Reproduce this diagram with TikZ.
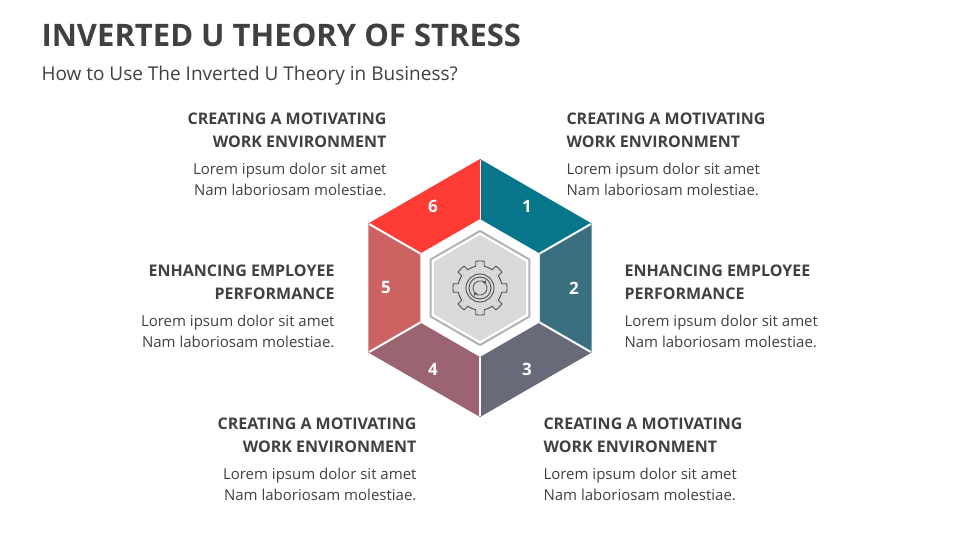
\documentclass[tikz,border=0pt]{standalone}
\usepackage{fontspec}
\setmainfont{Open Sans}
\usetikzlibrary{calc}
\begin{document}
\begin{tikzpicture}[x=1pt,y=-1pt,
  num/.style={text=white,font=\bfseries\fontsize{17}{17}\selectfont},
  head/.style={text=black!75,font=\bfseries\fontsize{16}{23}\selectfont},
  body/.style={text=black!75,font=\fontsize{15}{21}\selectfont}]
\useasboundingbox (0,0) rectangle (960,540);
\definecolor{c1}{RGB}{8,118,138}\definecolor{c2}{RGB}{58,111,128}
\definecolor{c3}{RGB}{103,106,120}\definecolor{c4}{RGB}{156,100,112}
\definecolor{c5}{RGB}{205,98,99}\definecolor{c6}{RGB}{255,59,53}
\node[anchor=base west,text=black!75,font=\bfseries\fontsize{31}{31}\selectfont] (title) at (38,47) {INVERTED U THEORY OF STRESS};
\node[anchor=base west,text=black!75,font=\fontsize{19}{19}\selectfont] (sub) at (38,81) {How to Use The Inverted U Theory in Business?};
\coordinate (C) at (480,288);
\foreach \i/\a/\c in {1/90/c1,2/30/c2,3/-30/c3,4/-90/c4,5/-150/c5,6/150/c6}{
  \pgfmathsetmacro\b{\a-60}
  \fill[\c] ($(C)+(\a:129 and -129)$) -- ($(C)+(\b:129 and -129)$) -- ($(C)+(\b:69 and -69)$) -- ($(C)+(\a:69 and -69)$) -- cycle;
  \draw[white,line width=2pt] ($(C)+(\a:128 and -128)$) -- ($(C)+(\a:69 and -69)$);
  \pgfmathsetmacro\m{\a-30}
  \node[num] (n\i) at ($(C)+(\m:94 and -94)$) {\i};
}
\draw[gray!60,line width=2pt] ($(C)+(90:57 and -57)$) -- ($(C)+(30:57 and -57)$) -- ($(C)+(-30:57 and -57)$) -- ($(C)+(-90:57 and -57)$) -- ($(C)+(-150:57 and -57)$) -- ($(C)+(150:57 and -57)$) -- cycle;
\fill[gray!30] ($(C)+(90:53 and -53)$) -- ($(C)+(30:53 and -53)$) -- ($(C)+(-30:53 and -53)$) -- ($(C)+(-90:53 and -53)$) -- ($(C)+(-150:53 and -53)$) -- ($(C)+(150:53 and -53)$) -- cycle;
% gear
\draw[black!70,line width=0.9pt] plot[domain=0:360,samples=161] ({480+(22+5*(cos(8*\x)>0.3?1:0))*cos(\x)},{288+(22+5*(cos(8*\x)>0.3?1:0))*sin(\x)});
\draw[black!70,line width=0.9pt] (C) circle (14) (C) circle (11);
\draw[black!70,line width=0.8pt,-stealth] ($(C)+(150:7)$) arc (150:330:7);
\draw[black!70,line width=0.8pt,-stealth] ($(C)+(-30:7)$) arc (-30:150:7);
% texts
\node[head,anchor=north east,align=right] (h6) at (390,109) {CREATING A MOTIVATING\\WORK ENVIRONMENT};
\node[body,anchor=north east,align=right] (b6) at (390,160) {Lorem ipsum dolor sit amet\\Nam laboriosam molestiae.};
\node[head,anchor=north west,align=left] (h1) at (563,109) {CREATING A MOTIVATING\\WORK ENVIRONMENT};
\node[body,anchor=north west,align=left] (b1) at (563,160) {Lorem ipsum dolor sit amet\\Nam laboriosam molestiae.};
\node[head,anchor=north east,align=right] (h5) at (338,261) {ENHANCING EMPLOYEE\\PERFORMANCE};
\node[body,anchor=north east,align=right] (b5) at (338,312) {Lorem ipsum dolor sit amet\\Nam laboriosam molestiae.};
\node[head,anchor=north west,align=left] (h2) at (621,261) {ENHANCING EMPLOYEE\\PERFORMANCE};
\node[body,anchor=north west,align=left] (b2) at (621,312) {Lorem ipsum dolor sit amet\\Nam laboriosam molestiae.};
\node[head,anchor=north east,align=right] (h4) at (420,414) {CREATING A MOTIVATING\\WORK ENVIRONMENT};
\node[body,anchor=north east,align=right] (b4) at (420,465) {Lorem ipsum dolor sit amet\\Nam laboriosam molestiae.};
\node[head,anchor=north west,align=left] (h3) at (540,414) {CREATING A MOTIVATING\\WORK ENVIRONMENT};
\node[body,anchor=north west,align=left] (b3) at (540,465) {Lorem ipsum dolor sit amet\\Nam laboriosam molestiae.};
\end{tikzpicture}
\end{document}
